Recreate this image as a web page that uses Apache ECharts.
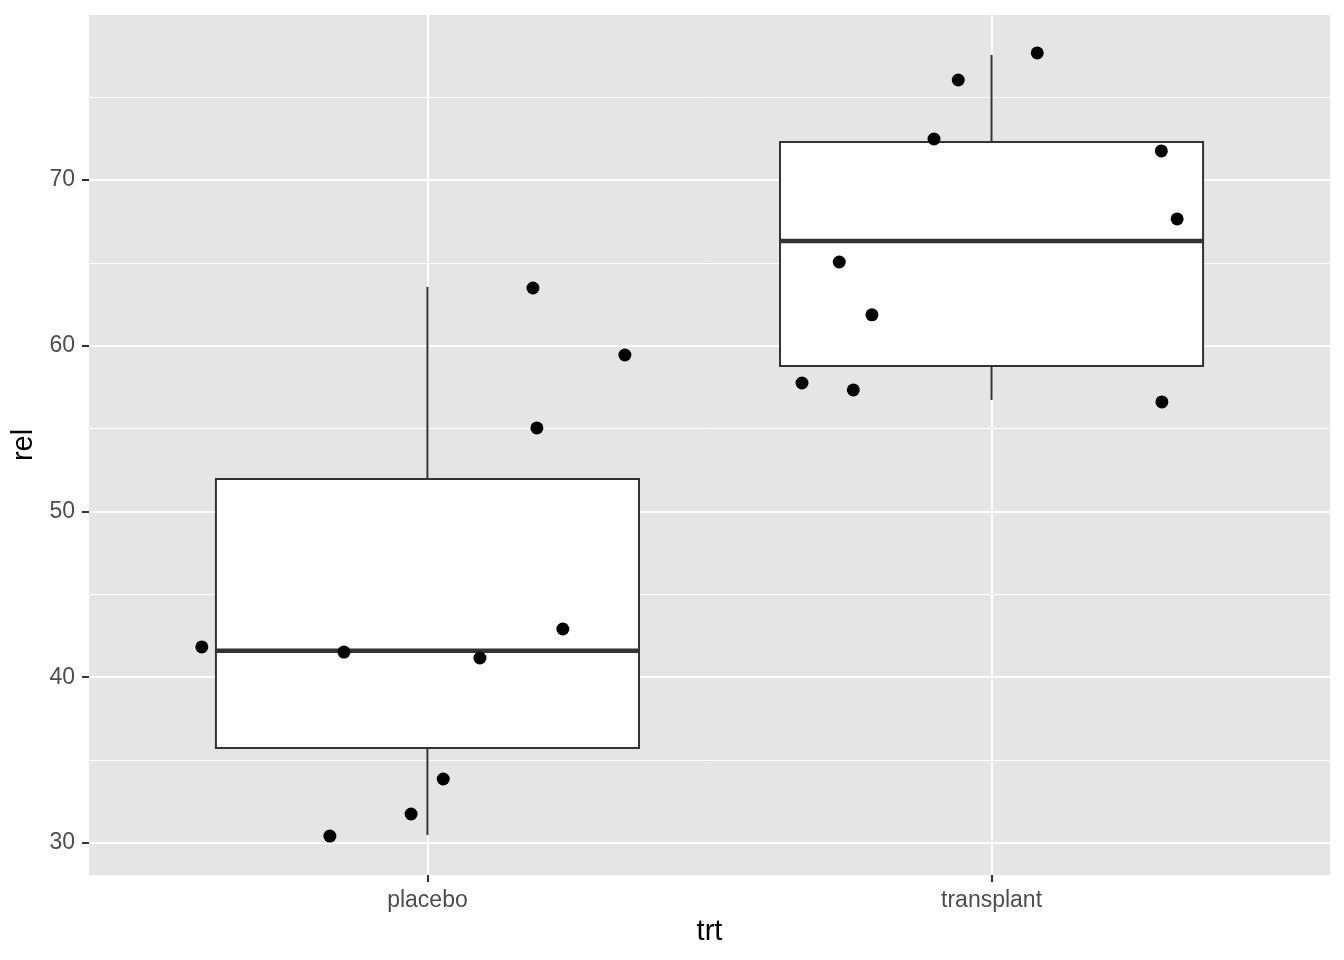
<!DOCTYPE html>
<html>
<head>
<meta charset="utf-8">
<script src="https://cdn.jsdelivr.net/npm/echarts@6/dist/echarts.min.js"></script>
<style>
  html, body { margin: 0; padding: 0; background: #fff; }
  #chart { width: 1344px; height: 960px; }
</style>
</head>
<body>
<div id="chart"></div>
<script>
// 分类
var categories = ["placebo", "transplant"];
var catPositions = [1, 2];

// 箱线图统计量
var boxLow = [30.48, 56.73];
var boxQ1 = [35.73, 58.78];
var boxMedian = [41.6, 66.32];
var boxQ3 = [51.96, 72.29];
var boxHigh = [63.54, 77.54];

// 抖动点 (x为抖动后的位置)
var placeboX = [0.600, 0.852, 1.093, 1.240, 1.187, 1.194, 1.350, 1.028, 0.971, 0.827];
var placeboY = [41.83, 41.52, 41.16, 42.91, 63.48, 55.04, 59.44, 33.86, 31.75, 30.42];
var transplantX = [2.081, 1.941, 1.898, 2.301, 2.329, 1.730, 1.788, 1.664, 1.755, 2.302];
var transplantY = [77.66, 76.03, 72.47, 71.75, 67.65, 65.05, 61.86, 57.75, 57.33, 56.61];

// 刻度
var yTicks = [30, 40, 50, 60, 70];
var yMinor = [35, 45, 55, 65, 75];

var boxData = [];
for (let i = 0; i < catPositions.length; i++) {
  boxData.push([catPositions[i], boxLow[i], boxQ1[i], boxMedian[i], boxQ3[i], boxHigh[i]]);
}
var pointData = [];
for (let i = 0; i < placeboX.length; i++) pointData.push([placeboX[i], placeboY[i]]);
for (let i = 0; i < transplantX.length; i++) pointData.push([transplantX[i], transplantY[i]]);

var minorData = yMinor.map(function (v) { return { yAxis: v }; });

var myChart = echarts.init(document.getElementById("chart"));
var option = {
  animation: false,
  textStyle: { fontFamily: "Liberation Sans, Arial, sans-serif" },
  grid: {
    left: 89, right: 14, top: 15, bottom: 85,
    containLabel: false,
    outerBoundsMode: "none",
    show: true, backgroundColor: "#E5E5E5", borderWidth: 0
  },
  xAxis: {
    type: "value",
    min: 0.4, max: 2.6,
    name: "trt",
    nameLocation: "middle",
    nameGap: 42,
    nameTextStyle: { fontSize: 29, color: "#000" },
    axisLine: { show: false },
    axisTick: { show: true, length: 7, lineStyle: { color: "#333", width: 2 }, customValues: catPositions },
    axisLabel: {
      customValues: catPositions,
      fontSize: 23, color: "#4D4D4D", margin: 14,
      formatter: function (v) { return categories[Math.round(v) - 1]; }
    },
    splitLine: { show: true, lineStyle: { color: "#fff", width: 2 } }
  },
  yAxis: {
    type: "value",
    min: 28.07, max: 79.95,
    name: "rel",
    nameLocation: "middle",
    nameGap: 50,
    nameRotate: 90,
    nameTextStyle: { fontSize: 29, color: "#000" },
    axisLine: { show: false },
    axisTick: { show: true, length: 7, lineStyle: { color: "#333", width: 2 }, customValues: yTicks },
    axisLabel: { customValues: yTicks, fontSize: 23, color: "#4D4D4D", margin: 14 },
    splitLine: { show: true, lineStyle: { color: "#fff", width: 2 } }
  },
  series: [
    {
      type: "line",
      data: [],
      silent: true,
      z: 1,
      markLine: {
        silent: true,
        symbol: "none",
        z: 1,
        label: { show: false },
        lineStyle: { color: "#fff", width: 1, type: "solid" },
        data: minorData
      }
    },
    {
      type: "custom",
      data: boxData,
      encode: { x: 0, y: [1, 2, 3, 4, 5] },
      renderItem: function (params, api) {
        var x = api.value(0);
        var halfW = api.size([0.75, 0])[0] / 2;
        var pLow = api.coord([x, api.value(1)]);
        var pQ1 = api.coord([x, api.value(2)]);
        var pMed = api.coord([x, api.value(3)]);
        var pQ3 = api.coord([x, api.value(4)]);
        var pHigh = api.coord([x, api.value(5)]);
        var line = { stroke: "#333", lineWidth: 2 };
        return {
          type: "group",
          children: [
            { type: "line", shape: { x1: pHigh[0], y1: pHigh[1], x2: pQ3[0], y2: pQ3[1] }, style: line },
            { type: "line", shape: { x1: pQ1[0], y1: pQ1[1], x2: pLow[0], y2: pLow[1] }, style: line },
            {
              type: "rect",
              shape: { x: pQ3[0] - halfW, y: pQ3[1], width: halfW * 2, height: pQ1[1] - pQ3[1] },
              style: { fill: "#fff", stroke: "#333", lineWidth: 2 }
            },
            {
              type: "line",
              shape: { x1: pMed[0] - halfW, y1: pMed[1], x2: pMed[0] + halfW, y2: pMed[1] },
              style: { stroke: "#333", lineWidth: 4.5 }
            }
          ]
        };
      },
      z: 3
    },
    {
      type: "scatter",
      data: pointData,
      symbolSize: 13,
      itemStyle: { color: "#000", opacity: 1 },
      z: 4
    }
  ]
};
myChart.setOption(option);
window.addEventListener("resize", function () {
  myChart.resize();
});
</script>
</body>
</html>
